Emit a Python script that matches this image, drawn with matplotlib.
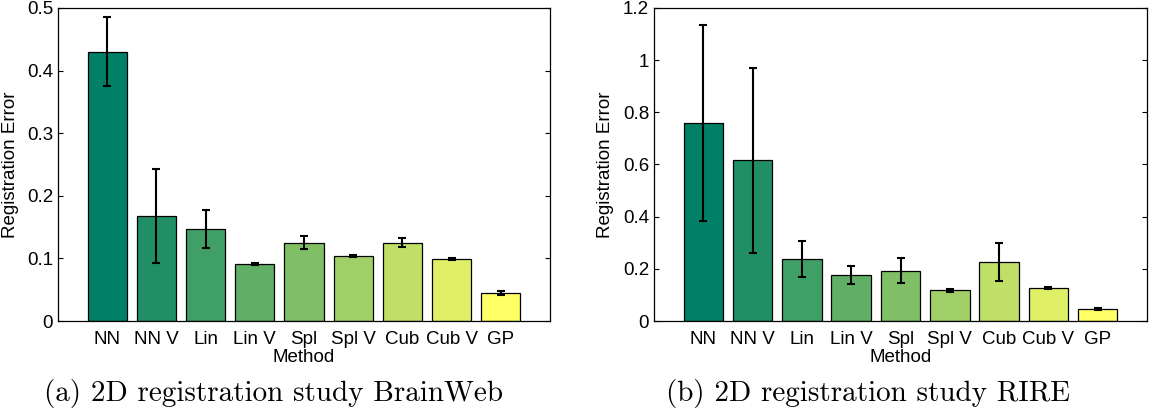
import matplotlib
matplotlib.use("Agg")
import matplotlib.pyplot as plt
import numpy as np
from matplotlib.ticker import FuncFormatter

methods = ["NN", "NN V", "Lin", "Lin V", "Spl", "Spl V", "Cub", "Cub V", "GP"]

brainweb_mean = [0.430, 0.168, 0.147, 0.091, 0.125, 0.104, 0.125, 0.099, 0.045]
brainweb_err = [0.055, 0.075, 0.030, 0.001, 0.010, 0.002, 0.007, 0.002, 0.003]
brainweb_yticks = [0, 0.1, 0.2, 0.3, 0.4, 0.5]

rire_mean = [0.760, 0.616, 0.238, 0.176, 0.192, 0.118, 0.226, 0.126, 0.046]
rire_err = [0.375, 0.354, 0.070, 0.034, 0.048, 0.005, 0.073, 0.003, 0.002]
rire_yticks = [0, 0.2, 0.4, 0.6, 0.8, 1.0, 1.2]

captions = ["(a) 2D registration study BrainWeb", "(b) 2D registration study RIRE"]

W, H = 1151, 416
fig = plt.figure(figsize=(W / 100, H / 100), dpi=100)

def px_axes(x0, x1, y0, y1):
    return fig.add_axes([x0 / W, 1 - y1 / H, (x1 - x0) / W, (y1 - y0) / H])

# MATLAB "summer" colormap
n = len(methods)
r = np.linspace(0, 1, n)
colors = [(ri, 0.5 + ri / 2, 0.4) for ri in r]

sans = ["Liberation Sans", "DejaVu Sans"]
FS = 13.5

def draw(ax, means, errs, yticks, ylab_x):
    x = np.arange(1, n + 1)
    ax.bar(x, means, width=0.8, color=colors, edgecolor="black", linewidth=0.9, zorder=2)
    ax.errorbar(x, means, yerr=errs, fmt="none", ecolor="black", elinewidth=1.5,
                capsize=2.9, capthick=1.5, zorder=3)
    ax.set_xlim(0, 10)
    ax.set_ylim(yticks[0], yticks[-1])
    ax.set_xticks(x)
    ax.set_xticklabels(methods, fontfamily=sans, fontsize=FS)
    ax.set_yticks(yticks)
    ax.yaxis.set_major_formatter(FuncFormatter(lambda v, p: "%g" % round(v, 3)))
    for lab in ax.get_yticklabels():
        lab.set_fontfamily(sans)
        lab.set_fontsize(FS)
    ax.tick_params(axis="y", direction="in", length=3.6, width=0.8, left=True, right=True, pad=3.6)
    ax.tick_params(axis="x", length=0, pad=7)
    ax.set_xlabel("Method", fontfamily=sans, fontsize=FS)
    ax.xaxis.set_label_coords(0.5, -0.089)
    ax.set_ylabel("Registration Error", fontfamily=sans, fontsize=FS)
    ax.yaxis.set_label_coords(ylab_x, 0.5)
    ax.yaxis.label.set_va("center")
    for s in ax.spines.values():
        s.set_linewidth(0.9)

ax1 = px_axes(58, 550, 8, 321)
draw(ax1, brainweb_mean, brainweb_err, brainweb_yticks, (11 - 58) / 492)
ax2 = px_axes(654, 1147, 8, 321)
draw(ax2, rire_mean, rire_err, rire_yticks, (606 - 654) / 493)

fig.text(274 / W, 1 - 401 / H, captions[0], ha="center", va="baseline",
         fontfamily=["cmr10", "DejaVu Serif"], fontsize=21)
fig.text(868 / W, 1 - 401 / H, captions[1], ha="center", va="baseline",
         fontfamily=["cmr10", "DejaVu Serif"], fontsize=21)

fig.savefig("out.png", dpi=100)
